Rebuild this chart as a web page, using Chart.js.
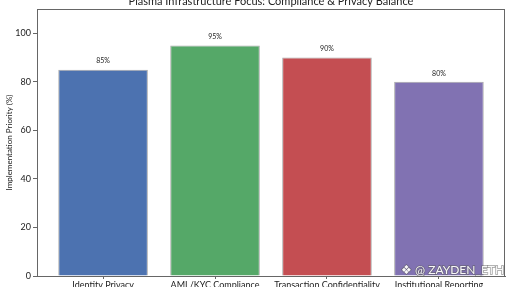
<!DOCTYPE html>
<html>
<head>
<meta charset="utf-8">
<script src="https://cdn.jsdelivr.net/npm/chart.js@4/dist/chart.umd.min.js"></script>
<style>
  html, body { margin: 0; padding: 0; background: #fff; }
  #wrap { width: 512px; height: 287px; }
</style>
</head>
<body>
<div id="wrap"><canvas id="c" width="512" height="287"></canvas></div>
<script>
const categories = ['Identity Privacy', 'AML/KYC Compliance', 'Transaction Confidentiality', 'Institutional Reporting'];
const priority = [85, 95, 90, 80];
const barColors = ['#4c72b0', '#55a868', '#c44e52', '#8172b2'];
const yTicks = [0, 20, 40, 60, 80, 100];
const chartTitle = 'Plasma Infrastructure Focus: Compliance & Privacy Balance';
const yLabel = 'Implementation Priority (%)';

const FONT = 'Lato, "Open Sans", sans-serif';

// frame, title, value labels, watermark
const extras = {
  id: 'extras',
  afterDatasetsDraw(chart) {
    const { ctx, chartArea: a, scales: { x, y } } = chart;
    ctx.save();
    ctx.strokeStyle = '#666';
    ctx.lineWidth = 1;
    ctx.strokeRect(a.left + 0.5, a.top + 0.5, a.right - a.left - 1, a.bottom - a.top);

    ctx.fillStyle = '#222';
    ctx.font = '11px ' + FONT;
    ctx.textAlign = 'center';
    ctx.textBaseline = 'bottom';
    ctx.fillText(chartTitle, (a.left + a.right) / 2, 7);

    ctx.font = '7px ' + FONT;
    ctx.textBaseline = 'middle';
    priority.forEach((v, i) => {
      ctx.fillText(v + '%', x.getPixelForValue(i), y.getPixelForValue(v + 3.5));
    });

    ctx.font = '12px ' + FONT;
    ctx.textAlign = 'left';
    ctx.lineWidth = 1.5;
    ctx.strokeStyle = 'rgba(90,90,90,0.6)';
    ctx.strokeText('\u2756 @ ZAYDEN_ETH', 401, 270);
    ctx.fillStyle = 'rgba(255,255,255,0.95)';
    ctx.fillText('\u2756 @ ZAYDEN_ETH', 401, 270);
    ctx.restore();
  }
};

new Chart(document.getElementById('c'), {
  type: 'bar',
  data: {
    datasets: [{
      data: priority.map((v, i) => ({ x: i, y: v })),
      backgroundColor: barColors,
      borderColor: 'rgba(0,0,0,0.35)',
      borderWidth: 1,
      inflateAmount: 0,
      barPercentage: 0.8,
      categoryPercentage: 1
    }]
  },
  options: {
    responsive: false,
    animation: false,
    layout: { padding: { top: 9, right: 7, left: 0, bottom: 0 } },
    plugins: { legend: { display: false }, tooltip: { enabled: false } },
    scales: {
      x: {
        type: 'linear',
        offset: false,
        min: -0.59,
        max: 3.59,
        afterBuildTicks: s => { s.ticks = categories.map((c, i) => ({ value: i })); },
        afterFit: s => { s.height = 11; },
        grid: { drawOnChartArea: false, offset: false, tickLength: 3, color: '#666' },
        border: { color: '#666' },
        ticks: {
          callback: v => categories[v],
          color: '#222',
          padding: 1,
          maxRotation: 0,
          autoSkip: false,
          font: { family: FONT, size: 9 }
        }
      },
      y: {
        min: 0,
        max: 110,
        afterBuildTicks: s => { s.ticks = yTicks.map(v => ({ value: v })); },
        afterFit: s => { s.width = 37; },
        grid: { drawOnChartArea: false, tickLength: 4, color: '#666' },
        border: { color: '#666' },
        ticks: { color: '#222', padding: 2, font: { family: FONT, size: 9 } },
        title: { display: true, text: yLabel, color: '#222', padding: { top: 5, bottom: 0 }, font: { family: FONT, size: 8 } }
      }
    }
  },
  plugins: [extras]
});
</script>
</body>
</html>
